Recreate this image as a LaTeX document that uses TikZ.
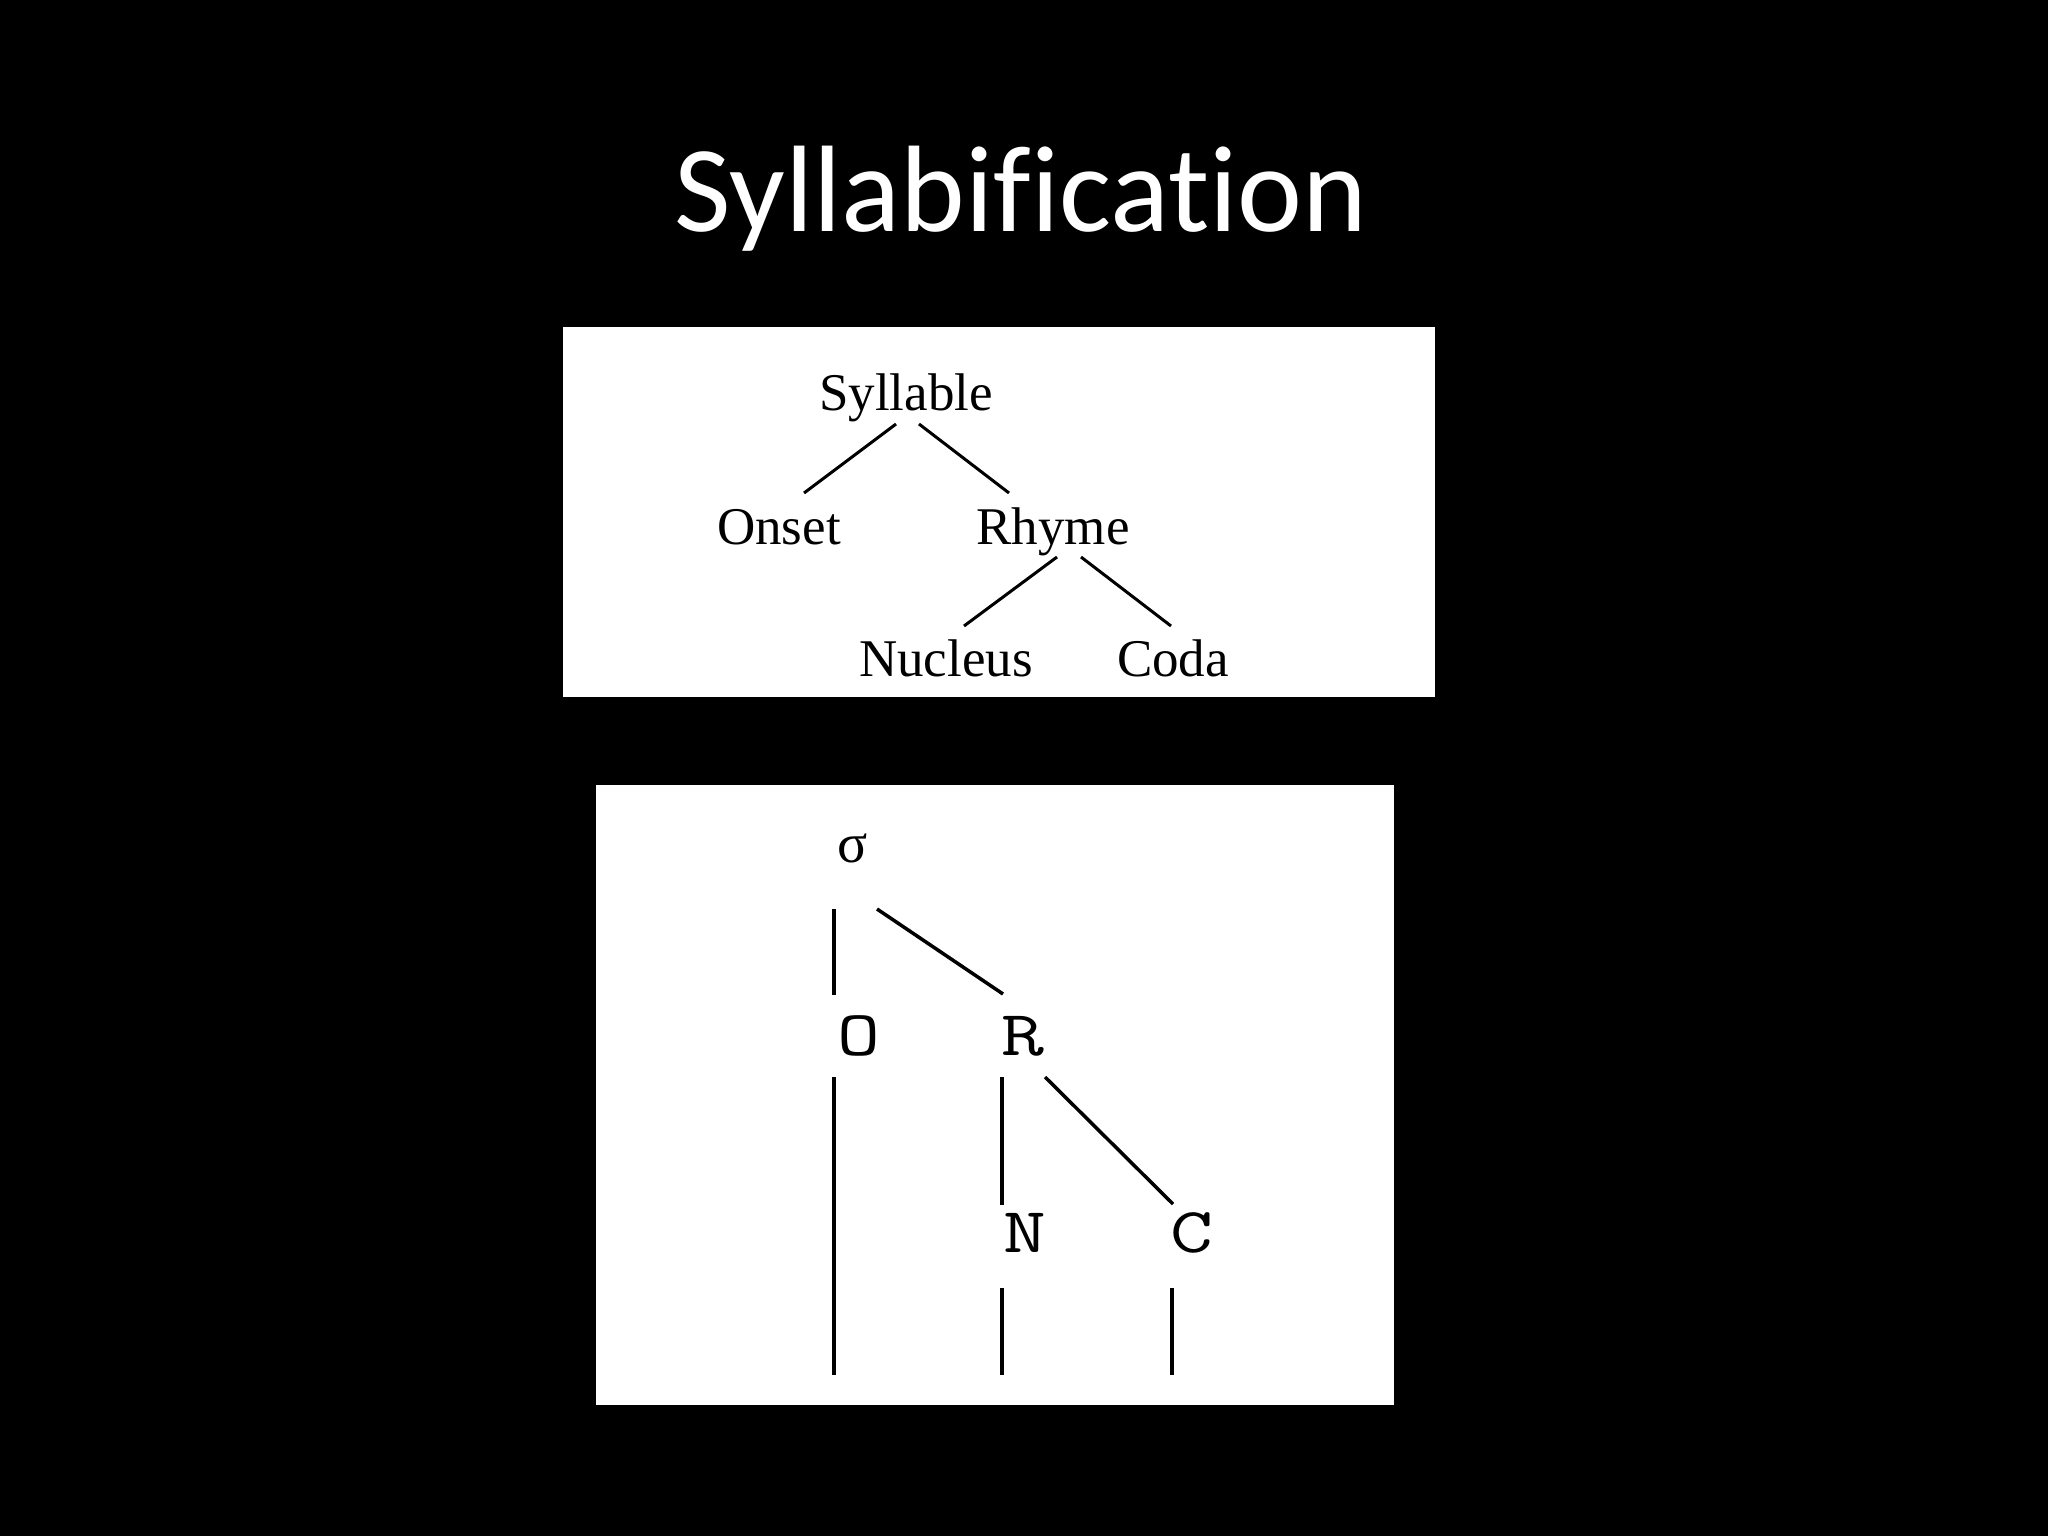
\documentclass[tikz,border=0pt]{standalone}
\usepackage{fontspec}
\usepackage{graphicx}
\setmainfont{Liberation Serif}
\newfontfamily\titlefont[Ligatures=NoCommon]{Carlito}
\newcommand{\widel}[1]{\scalebox{1.3}[1]{#1}}
\begin{document}
\begin{tikzpicture}[x=1pt,y=-1pt,
  treetext/.style={anchor=base,inner sep=0pt,text=black,font=\fontsize{53}{60}\selectfont},
  monotext/.style={anchor=base,inner sep=0pt,text=black,font=\ttfamily\fontsize{64}{70}\selectfont},
  sigtext/.style={anchor=base,inner sep=0pt,text=black,font=\fontsize{56}{60}\selectfont},
  branch/.style={draw=black,line width=3pt},
  mbranch/.style={draw=black,line width=3.5pt}]
\useasboundingbox (0,0) rectangle (2048,1536);
\fill[black] (0,0) rectangle (2048,1536);
% title
\node[anchor=base,inner sep=0pt,text=white,font=\titlefont\fontsize{123}{140}\selectfont] (title) at (1021,231) {Syllabification};
% boxes
\fill[white] (563,327) rectangle (1435,697);
\fill[white] (596,785) rectangle (1394,1405);
% top tree
\node[treetext] (syl) at (906,410) {Syllable};
\node[treetext] (on) at (779,544) {Onset};
\node[treetext] (rh) at (1053,544) {Rhyme};
\node[treetext] (nu) at (946,676) {Nucleus};
\node[treetext] (co) at (1173,676) {Coda};
\draw[branch] ([shift={(-10,14)}]syl.base) -- ([shift={(25,-51)}]on.base);
\draw[branch] ([shift={(13,14)}]syl.base) -- ([shift={(-44,-51)}]rh.base);
\draw[branch] ([shift={(4,13)}]rh.base) -- ([shift={(18,-50)}]nu.base);
\draw[branch] ([shift={(28,13)}]rh.base) -- ([shift={(-2,-50)}]co.base);
% bottom tree
\node[sigtext] (sig) at (853,862) {σ};
\node[monotext] (o) at (859,1055) {\widel{O}};
\node[monotext] (r) at (1023,1055) {\widel{R}};
\node[monotext] (n) at (1025,1252) {\widel{N}};
\node[monotext] (c) at (1192,1252) {\widel{C}};
\coordinate (oe) at (834,1375);
\coordinate (ne) at (1002,1375);
\coordinate (ce) at (1172,1375);
\draw[mbranch] ([shift={(-19,47)}]sig.base) -- ([shift={(-25,-60)}]o.base);
\draw[mbranch] ([shift={(24,47)}]sig.base) -- ([shift={(-20,-61)}]r.base);
\draw[mbranch] ([shift={(-25,22)}]o.base) -- (oe);
\draw[mbranch] ([shift={(-21,22)}]r.base) -- ([shift={(-23,-47)}]n.base);
\draw[mbranch] ([shift={(22,22)}]r.base) -- ([shift={(-19,-48)}]c.base);
\draw[mbranch] ([shift={(-23,36)}]n.base) -- (ne);
\draw[mbranch] ([shift={(-20,36)}]c.base) -- (ce);
\end{tikzpicture}
\end{document}
